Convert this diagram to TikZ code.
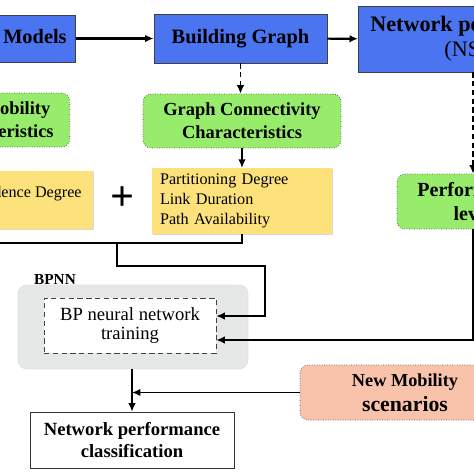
\documentclass[tikz,border=0pt]{standalone}
\usepackage{fontspec}
\setmainfont{Liberation Serif}
\usetikzlibrary{arrows.meta, positioning, calc, shadows}
\definecolor{graphblue}{HTML}{4A74F0}
\definecolor{featgreen}{HTML}{98EC6C}
\definecolor{metricyellow}{HTML}{FDE27C}
\definecolor{bpgray}{HTML}{E6E8E8}
\definecolor{newsalmon}{HTML}{F9C2AA}

\begin{document}
\begin{tikzpicture}[
    x=0.02cm, y=-0.02cm,
    bluebox/.style={draw=black!75, fill=graphblue, minimum height=0.96cm, align=center, font=\fontsize{11.6}{14}\selectfont\bfseries},
    greenbox/.style={draw=black!70, densely dotted, fill=featgreen, rounded corners=0.16cm, minimum height=1.08cm, align=center, font=\fontsize{10.5}{13}\selectfont\bfseries},
    yellowbox/.style={fill=metricyellow, minimum height=1.18cm, font=\fontsize{9.2}{11.3}\selectfont, drop shadow={shadow xshift=0.7pt, shadow yshift=-0.5pt, opacity=0.3}},
    arrow/.style={-{Latex[length=1.7mm, width=1.5mm]}, line width=0.8pt},
    dasharrow/.style={arrow, densely dashed},
]
    \useasboundingbox (0,0) rectangle (474,474);
    \clip (0,0) rectangle (474,474);

    \node[bluebox, anchor=east, inner xsep=0.18cm, minimum height=0.94cm] (models) at (76,38.5) {Mobility Models};
    \node[bluebox, minimum width=3.46cm, minimum height=0.98cm] (build) at (240.5,38.5) {Building Graph};
    \node[bluebox, anchor=west, inner xsep=0.24cm, minimum height=1.32cm, font=\fontsize{12.6}{14.2}\selectfont\bfseries] (netperf) at (358,39) {Network performance\\{\mdseries (NS-2)}};

    \node[greenbox, anchor=east, inner xsep=0.32cm] (mobchar) at (70,120) {Node Mobility\\Characteristics};
    \node[greenbox, minimum width=3.96cm] (graphchar) at (242,121) {Graph Connectivity\\Characteristics};
    \node[greenbox, minimum width=3.04cm, minimum height=1.1cm, font=\fontsize{11.4}{13.5}\selectfont\bfseries] (perflev) at (473,201.5) {Performance\\level};

    \node[yellowbox, anchor=east, inner xsep=0.22cm, text height=0.25cm, text depth=0.37cm] (spatial) at (93,200) {Spatial Dependence Degree};
    \node[font=\fontsize{24}{24}\selectfont\bfseries] (plus) at (123,199) {+};
    \node[yellowbox, minimum width=3.6cm, text width=3.28cm, align=left, inner xsep=0.16cm] (linkmet) at (242,201) {Partitioning Degree\\Link Duration\\Path Availability};

    % BPNN part
    \node[font=\fontsize{8.7}{10}\selectfont\bfseries] (bpnnlabel) at (55,280) {BPNN};
    \node[draw=black!12, fill=bpgray, rounded corners=0.18cm, minimum width=4.6cm, minimum height=1.68cm] (bpnn) at (133,327) {};
    \node[draw=black!75, densely dashed, fill=white, minimum width=3.44cm, minimum height=1.1cm, align=center, font=\fontsize{10.6}{11}\selectfont] (train) at (130,325.5) {BP neural network\\training};
    \node[draw=black!70, densely dotted, fill=newsalmon, rounded corners=0.16cm, minimum width=4.2cm, minimum height=1.1cm, align=center, font=\fontsize{10.4}{14}\selectfont\bfseries] (newmob) at (405,392.5) {New Mobility\\{\fontsize{12.4}{14}\selectfont scenarios}};
    \node[draw=black!80, fill=white, minimum width=4.08cm, minimum height=1.12cm, align=center, font=\fontsize{10.6}{12.5}\selectfont\bfseries] (classif) at (132,440) {Network performance\\classification};

    \coordinate (join) at (117,243);
    \coordinate (bend) at (265,266);

    \draw[arrow, line width=1.2pt] (models) -- (build);
    \draw[arrow, line width=1.2pt] (build) -- (netperf);
    \draw[dasharrow] (build.south) -- (build.south |- graphchar.north);
    \draw[arrow] (graphchar) -- (linkmet);
    \draw[dasharrow] (perflev.north |- netperf.south) -- (perflev.north);

    \draw[line width=0.8pt] (linkmet.south) |- (spatial.south |- join) -- (spatial.south);
    \draw[arrow] (join) |- (bend) |- ([yshift=0.19cm]train.east);
    \draw[arrow] (perflev.south) |- ([yshift=-0.29cm]train.east);
    \draw[arrow] (bpnn.south -| classif.north) -- (classif.north);
    \draw[arrow] (newmob.west) -- (newmob.west -| classif.north);
\end{tikzpicture}
\end{document}
